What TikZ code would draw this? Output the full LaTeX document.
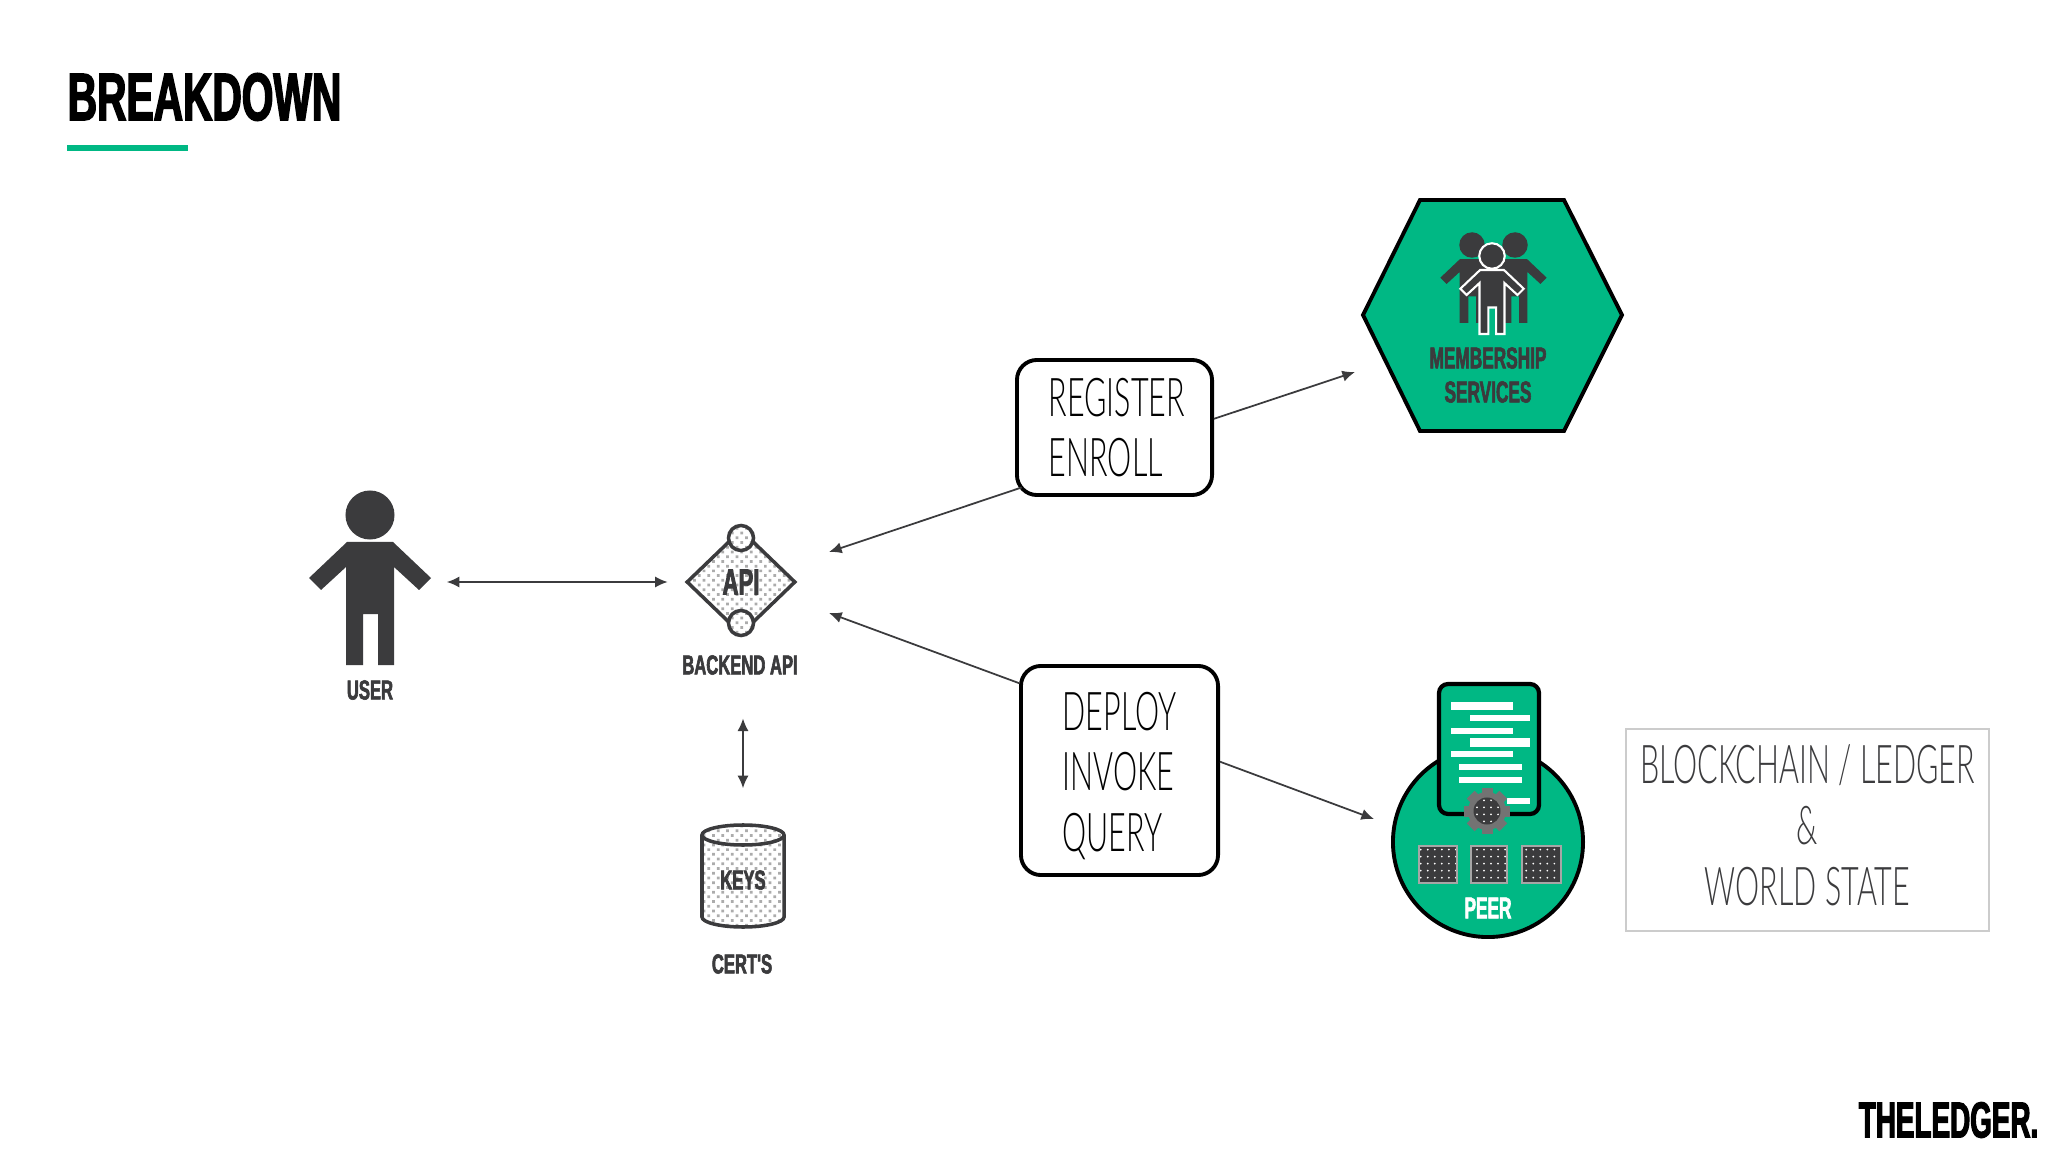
\documentclass[tikz,border=0pt]{standalone}
\usepackage{fontspec}
\usetikzlibrary{arrows,arrows.meta,shapes.geometric,patterns.meta}
\newfontfamily\headfont[FakeStretch=.606,FakeBold=2.2]{Liberation Sans Bold}
\newfontfamily\tagfont[FakeStretch=.57,FakeBold=2]{Liberation Sans Bold}
\newfontfamily\brandfont[FakeStretch=.55,FakeBold=2.2]{Liberation Sans Bold}
\newfontfamily\thinfont[FakeStretch=.57]{Lato Light}
\definecolor{accent}{RGB}{0,184,132}
\definecolor{ink}{RGB}{59,59,61}
\tikzset{
  lbl/.style={inner sep=0pt, text=ink, font=\headfont\fontsize{7.8}{9}\selectfont},
  biglbl/.style={inner sep=0pt, text=ink, font=\tagfont\fontsize{8.6}{9.6}\selectfont},
  verb/.style={draw=black, line width=1.1pt, fill=white, rounded corners=.2cm, align=left, inner sep=0pt, font=\thinfont\fontsize{15.2}{17.1}\selectfont},
  link/.style={{Latex[length=3.6pt,width=3.2pt]}-{Latex[length=3.6pt,width=3.2pt]}, draw=ink, line width=.5pt},
  linkto/.style={-{Latex[length=3.6pt,width=3.2pt]}, draw=ink, line width=.5pt},
  hatch/.style={preaction={fill=white}, pattern={Dots[radius=.55pt,distance=1.9pt,angle=45]}, pattern color=gray!65},
  chip/.style={draw=gray!70, line width=.4pt, preaction={fill=ink}, pattern={Dots[radius=.28pt,distance=2pt]}, pattern color=white},
  person/.pic={
    \path[pic actions] (0,0) circle[radius=.245cm];
    \path[pic actions] (-23,27) -- (23,27) -- (61,63) -- (49,75) -- (24,52) -- (24,150) -- (8,150) -- (8,99) -- (-7,99) -- (-7,150) -- (-24,150) -- (-24,52) -- (-49,75) -- (-61,63) -- cycle;
  }
}
\begin{document}
\begin{tikzpicture}[x=.01cm, y=-.01cm]
\useasboundingbox (0,0) rectangle (2048,1152);

\node[anchor=west, inner sep=0pt, font=\headfont\fontsize{19.1}{21}\selectfont] (title) at (67,97) {BREAKDOWN};
\fill[accent] (67,145) rectangle (188,151);

% user
\pic[fill=ink] at (370,515) {person};
\node[minimum width=1.22cm, minimum height=1.74cm, inner sep=0pt] (user) at (370,582) {};
\node[lbl] (userlbl) at (370,690) {USER};

% api
\node[diamond, draw=ink, line width=1pt, hatch, minimum width=1.09cm, minimum height=1.05cm, inner sep=0pt, text=ink, font=\headfont\fontsize{10.4}{12}\selectfont] (api) at (741,582) {API};
\node[circle, draw=ink, line width=1pt, hatch, minimum size=.25cm, inner sep=0pt] (apitop) at (741,538) {};
\node[circle, draw=ink, line width=1pt, hatch, minimum size=.25cm, inner sep=0pt] (apibot) at (741,623) {};
\node[lbl] (backend) at (740,665) {BACKEND API};

% keys
\draw[ink, line width=1pt, hatch] (702,835) -- (702,917) arc[start angle=180, end angle=360, x radius=.41cm, y radius=.1cm] -- (784,835);
\draw[ink, line width=1pt, hatch] (743,835) ellipse[x radius=.41cm, y radius=.1cm];
\node[lbl, minimum height=1.1cm] (keys) at (743,880) {KEYS};
\node[lbl] (certs) at (742,964) {CERT'S};

% boxes
\node[verb, minimum width=1.95cm, minimum height=1.35cm] (register) at (1114.5,427.5) {\hspace*{1.4pt}REGISTER\\\hspace*{1.4pt}ENROLL};
\node[verb, minimum width=1.97cm, minimum height=2.09cm] (deploy) at (1119.5,770.5) {\rule{0pt}{14pt}DEPLOY\\INVOKE\\QUERY};

% membership
\draw[black, line width=1.1pt, fill=accent] (1420,200) -- (1564,200) -- (1622,315) -- (1564,431) -- (1420,431) -- (1363,315) -- cycle;
\pic[fill=ink, scale=.52] at (1472,245) {person};
\pic[fill=ink, scale=.52] at (1515,245) {person};
\pic[fill=ink, draw=white, line width=.6pt, scale=.52] at (1492,256) {person};
\node[biglbl] (member) at (1488,358) {MEMBERSHIP};
\node[biglbl] (services) at (1488,392) {SERVICES};
\coordinate (memberin) at (1355,372);

% peer
\draw[black, line width=1.1pt, fill=accent] (1488,842) circle[radius=.95cm];
\draw[black, line width=1.2pt, fill=accent, rounded corners=.09cm] (1439,684) rectangle (1539,814);
\foreach \xa/\xb/\ya/\yb in {1451/1513/702/710, 1470/1530/715/721, 1451/1513/728/734, 1470/1530/738/747, 1451/1513/751/757, 1459/1522/764/770, 1459/1522/777/783, 1507/1530/798/804}{
  \fill[white] (\xa,\ya) rectangle (\xb,\yb);
}
\begin{scope}[shift={(1487,811)}]
\foreach \a in {0,45,...,315}{\fill[gray!90!black, rotate=\a] (-5.5,-23) rectangle (5.5,0);}
\fill[gray!90!black] (0,0) circle[radius=.19cm];
\draw[chip, draw=none] (0,0) circle[radius=.135cm];
\end{scope}
\draw[chip] (1419,846) rectangle (1457,883);
\draw[chip] (1471,846) rectangle (1507,883);
\draw[chip] (1522,846) rectangle (1561,883);
\node[biglbl, text=white] (peer) at (1488,908) {PEER};
\coordinate (peerin) at (1374,819);

% ledger
\node[draw=gray!40, line width=.5pt, minimum width=3.63cm, minimum height=2.02cm, inner sep=0pt, align=center, text=ink, font=\thinfont\fontsize{15.2}{17.3}\selectfont] (ledger) at (1807.5,830) {BLOCKCHAIN / LEDGER\\\&\\WORLD STATE\rule[-3pt]{0pt}{3pt}};

\node[anchor=east, inner sep=0pt, font=\brandfont\fontsize{14.4}{16}\selectfont] (brand) at (2039,1120) {THELEDGER.};

% connectors
\coordinate (apiup) at (829,552);
\coordinate (apidown) at (829,613);
\draw[link, shorten <=.15cm, shorten >=.17cm] (user.east) -- (api.west);
\draw[link, shorten <=.43cm, shorten >=.36cm] (backend.south -| keys.north) -- (keys.north);
\draw[linkto] (register.5) -- (memberin);
\draw[linkto, shorten <=-.07cm] (register.212) -- (apiup);
\draw[linkto] (deploy.139) -- (apidown);
\draw[linkto] (deploy.5.5) -- (peerin);
\end{tikzpicture}
\end{document}
